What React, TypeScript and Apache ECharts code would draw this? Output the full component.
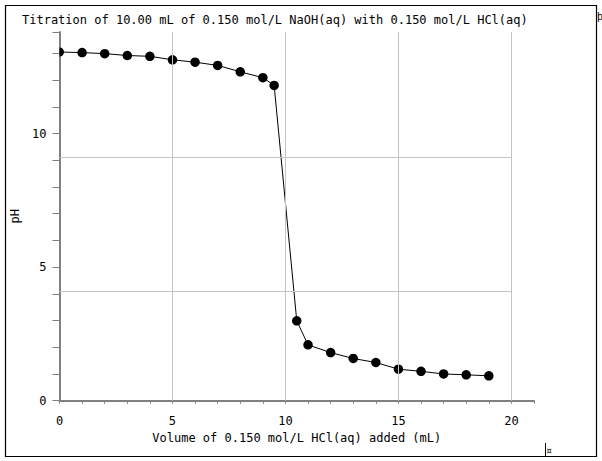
import React, { useEffect, useRef } from "react";
import * as echarts from "echarts";

const titleText = "Titration of 10.00 mL of 0.150 mol/L NaOH(aq) with 0.150 mol/L HCl(aq)";
const xAxisTitle = "Volume of 0.150 mol/L HCl(aq) added (mL)";
const yAxisTitle = "pH";

const volumes = [0, 1, 2, 3, 4, 5, 6, 7, 8, 9, 9.5, 10.5, 11, 12, 13, 14, 15, 16, 17, 18, 19];
const phValues = [13.05, 13.03, 12.99, 12.92, 12.89, 12.76, 12.67, 12.55, 12.31, 12.09, 11.8, 2.99, 2.09, 1.8, 1.58, 1.43, 1.18, 1.1, 1.0, 0.97, 0.93];

const xLabelValues = [0, 5, 10, 15, 20];
const yLabelValues = [0, 5, 10];
const xGridValues = [5, 10, 15, 20];
const yGridValues = [4.1, 9.1];

const X_MAX = 21;
const Y_MAX = 13.8;
const MONO = "'DejaVu Sans Mono', 'Liberation Mono', monospace";

export default function App() {
  const ref = useRef<HTMLDivElement>(null);
  useEffect(() => {
    if (!ref.current) return;
    const chart = echarts.init(ref.current, undefined, { renderer: "svg" });
    const seriesData = volumes.map((v, i) => {
      const item: any = { value: [v, phValues[i]] };
      if (i === 0) {
        item.symbol = "path://M0,0 A10,10 0 0 1 0,20 Z";
        item.symbolSize = [4.5, 9];
        item.symbolOffset = [2.25, 0];
      }
      return item;
    });
    const gridLineData: any[] = [
      ...xGridValues.map((v) => [{ coord: [v, 0] }, { coord: [v, Y_MAX] }]),
      ...yGridValues.map((v) => [{ coord: [0, v] }, { coord: [20, v] }]),
    ];
    chart.setOption({
      animation: false,
      backgroundColor: "#ffffff",
      title: {
        text: titleText,
        left: 17,
        top: 9,
        textStyle: { fontFamily: MONO, fontSize: 12, fontWeight: "normal", color: "#000" },
      },
      grid: { left: 59.5, top: 32, right: 68, bottom: 60.3, containLabel: false },
      xAxis: {
        type: "value",
        min: 0,
        max: X_MAX,
        interval: 1,
        name: xAxisTitle,
        nameLocation: "middle",
        nameGap: 29,
        nameTextStyle: { fontFamily: MONO, fontSize: 12, color: "#000" },
        axisLine: { show: true, lineStyle: { color: "#808080", width: 2 } },
        axisTick: { show: true, length: 3, lineStyle: { color: "#808080", width: 1 } },
        axisLabel: {
          fontFamily: MONO,
          fontSize: 12,
          color: "#000",
          margin: 14,
          formatter: (v: number) => (xLabelValues.includes(v) ? String(v) : ""),
        },
        splitLine: { show: false },
      },
      yAxis: {
        type: "value",
        min: 0,
        max: Y_MAX,
        interval: 1,
        name: yAxisTitle,
        nameLocation: "middle",
        nameGap: 30,
        nameRotate: 90,
        nameTextStyle: { fontFamily: MONO, fontSize: 12, color: "#000" },
        axisLine: { show: true, lineStyle: { color: "#808080", width: 2 } },
        axisTick: { show: true, length: 7, lineStyle: { color: "#808080", width: 1 } },
        axisLabel: {
          fontFamily: MONO,
          fontSize: 12,
          color: "#000",
          margin: 13,
          formatter: (v: number) => (yLabelValues.includes(v) ? String(v) : ""),
        },
        splitLine: { show: false },
      },
      series: [
        {
          type: "line",
          z: 1,
          data: [[0, 0]],
          showSymbol: false,
          lineStyle: { opacity: 0 },
          silent: true,
          markLine: {
            silent: true,
            animation: false,
            symbol: ["none", "none"],
            label: { show: false },
            lineStyle: { color: "#c4c4c4", type: "solid", width: 1 },
            emphasis: { disabled: true },
            data: gridLineData,
          },
        },
        {
          type: "line",
          z: 3,
          data: seriesData,
          symbol: "circle",
          symbolSize: 9.5,
          showAllSymbol: true,
          itemStyle: { color: "#000" },
          lineStyle: { color: "#000", width: 1 },
          clip: false,
        },
      ],
      graphic: [
        {
          type: "rect",
          shape: { x: 5.5, y: 5.5, width: 591, height: 451 },
          style: { fill: "none", stroke: "#000", lineWidth: 1.2 },
          silent: true,
        },
        {
          type: "line",
          shape: { x1: 545.5, y1: 443, x2: 545.5, y2: 456 },
          style: { stroke: "#000", lineWidth: 1 },
          silent: true,
        },
        {
          type: "text",
          x: 546,
          y: 445,
          style: { text: "¤", fontSize: 10, fill: "#000", fontFamily: MONO },
          silent: true,
        },
        {
          type: "text",
          x: 597,
          y: 11,
          style: { text: "þ", fontSize: 10, fill: "#000", fontFamily: MONO },
          silent: true,
        },
      ],
    });
    return () => chart.dispose();
  }, []);
  return (
    <div
      ref={ref}
      style={{ position: "fixed", left: 0, top: 0, width: 602, height: 461, background: "#fff" }}
    />
  );
}
